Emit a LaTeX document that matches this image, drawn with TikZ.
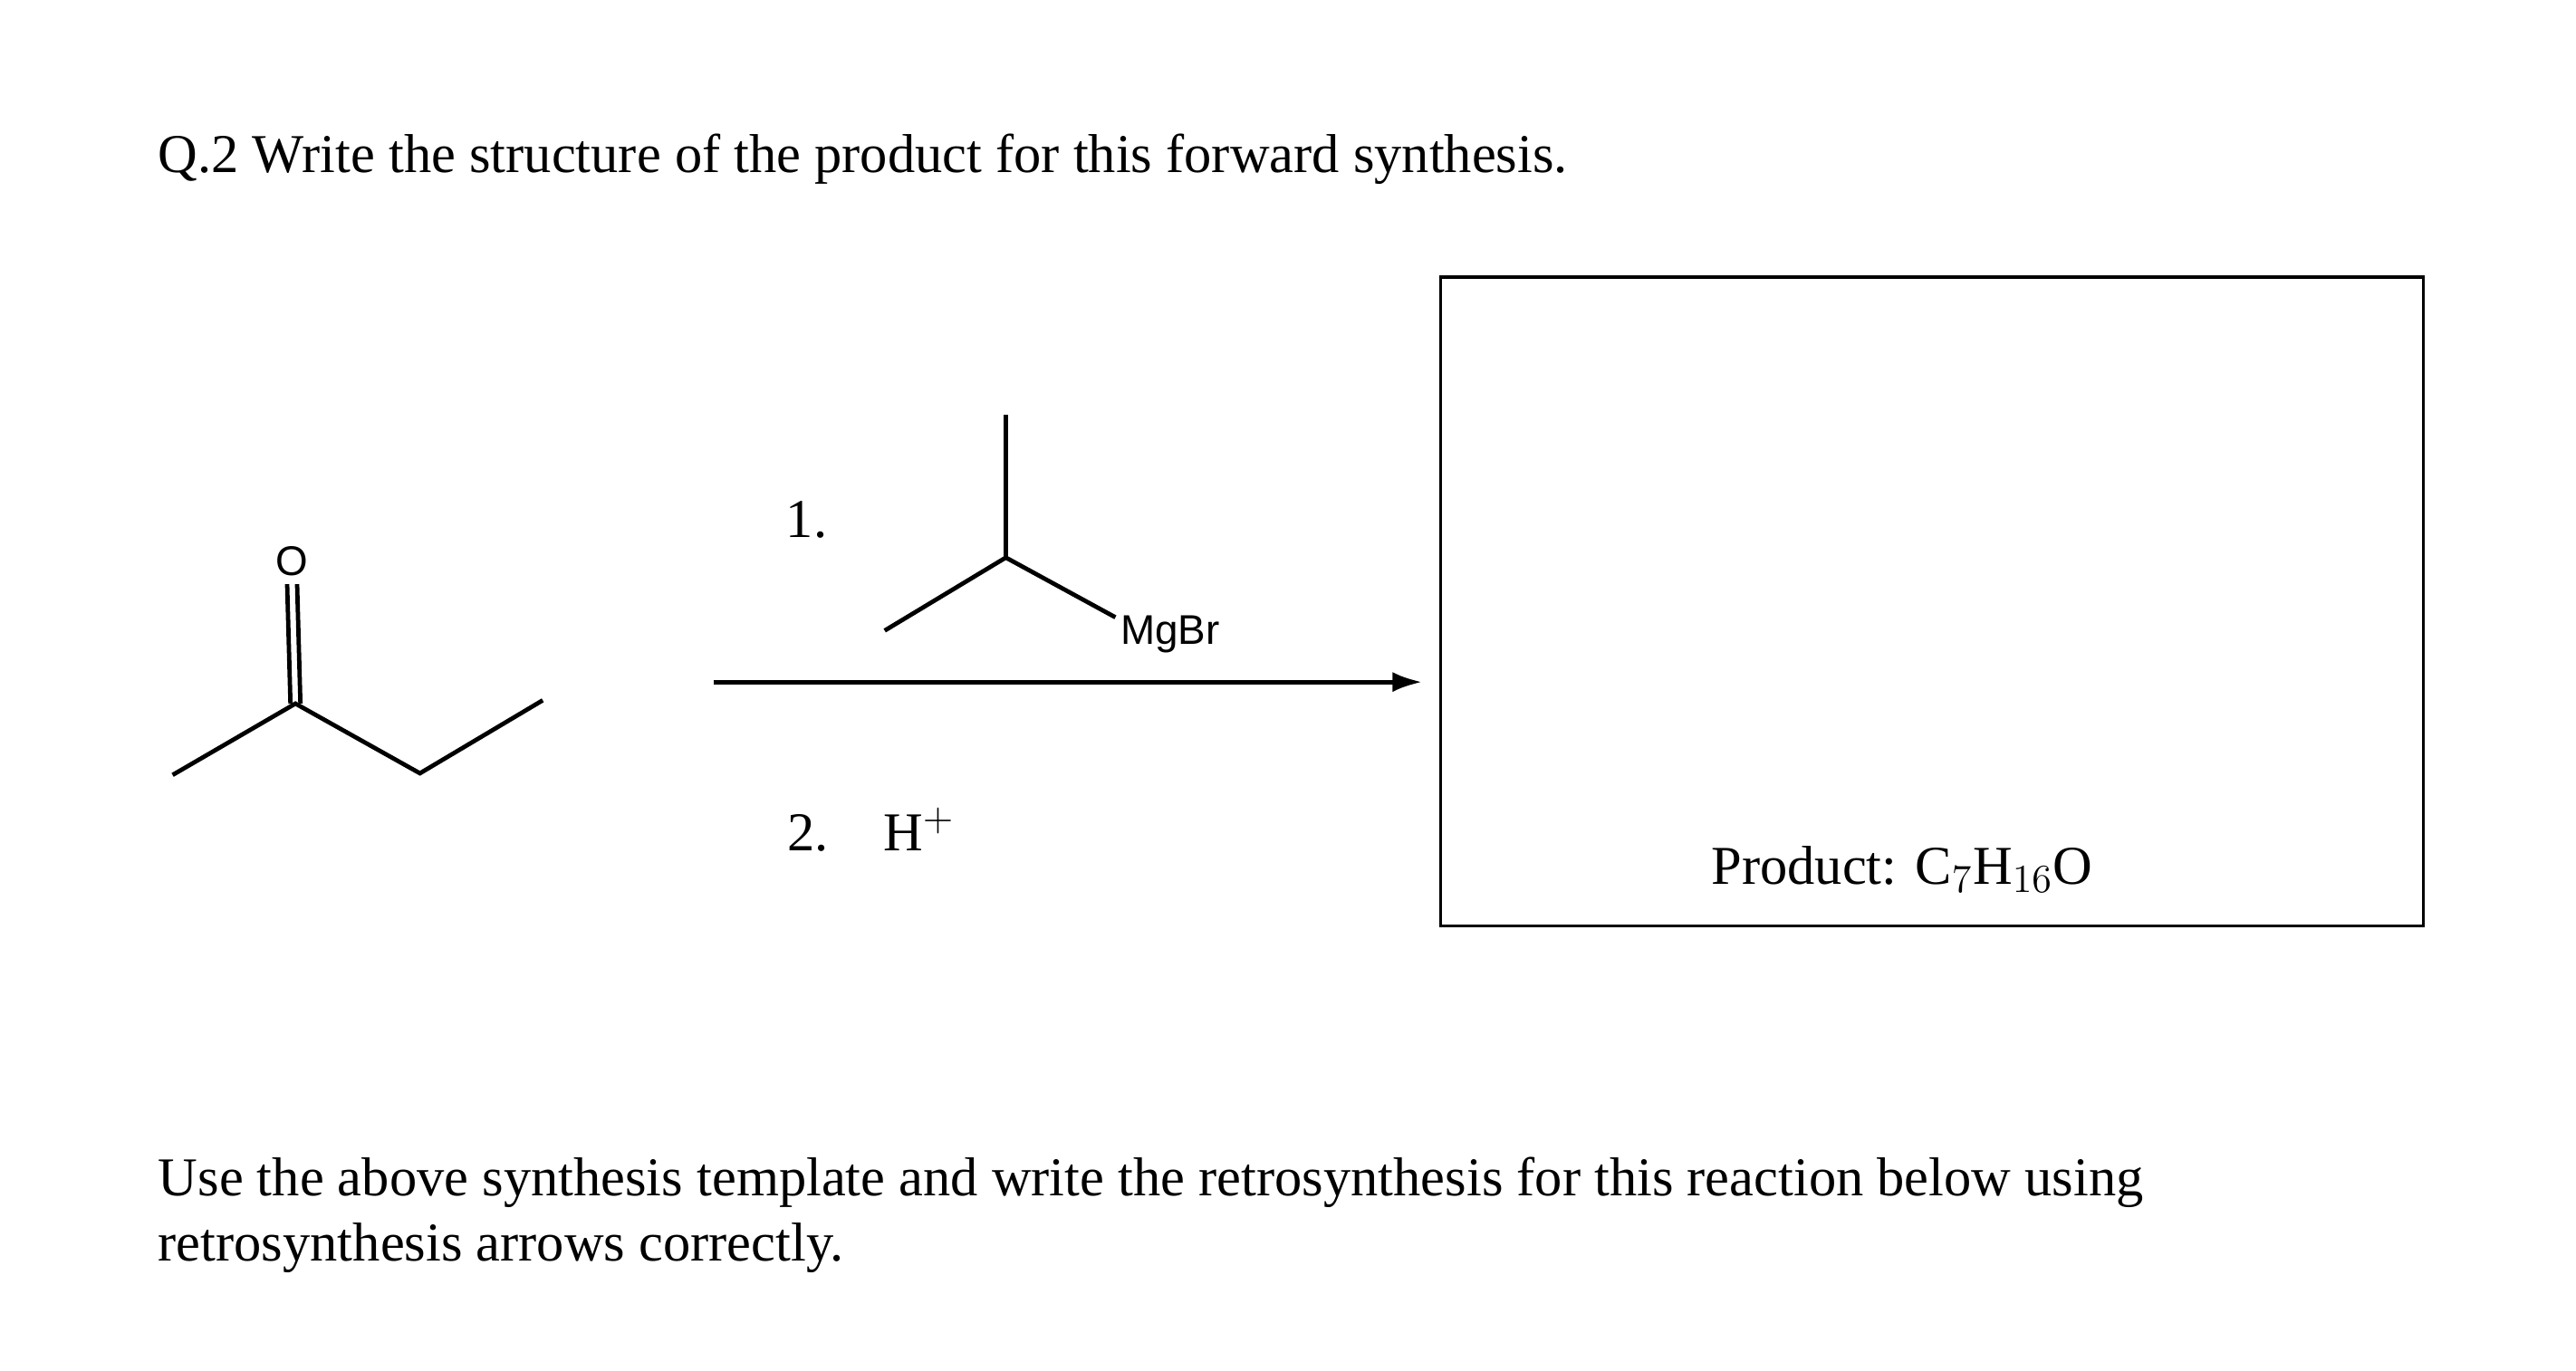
\documentclass[tikz,border=0pt]{standalone}
\usepackage{fontspec}
\usetikzlibrary{arrows.meta}
\setmainfont{Liberation Serif}
\setsansfont{Liberation Sans}
\begin{document}
\begin{tikzpicture}[x=0.5pt,y=-0.5pt,
  bond/.style={line width=1.3pt},
  txt/.style={inner sep=0pt,font=\fontsize{16.5}{19.5}\selectfont}]
\useasboundingbox (0,0) rectangle (1552,826);
\node[txt,anchor=west] (title) at (95,96) {Q.2 Write the structure of the product for this forward synthesis.};
% ketone
\coordinate (k1) at (104,467); \coordinate (k2) at (178,424);
\coordinate (k3) at (253,466); \coordinate (k4) at (327,422);
\node[inner sep=0pt,font=\sffamily\fontsize{12.5}{14}\selectfont] (O) at (176,338) {O};
\draw[bond] (k1)--(k2)--(k3)--(k4);
\draw[bond] ([xshift=-1.5pt]k2) -- ([xshift=-1.5pt]176,352);
\draw[bond] ([xshift=1.5pt]k2) -- ([xshift=1.5pt]176,352);
% grignard
\coordinate (g1) at (606,250); \coordinate (g2) at (606,336);
\coordinate (g3) at (533,380); \coordinate (g4) at (672,372);
\draw[bond] (g1)--(g2)--(g3); \draw[bond] (g2)--(g4);
\node[inner sep=0pt,font=\sffamily\fontsize{12.5}{14}\selectfont] (mg) at (705,382) {MgBr};
\node[txt] (one) at (486,313) {1.};
\node[txt,anchor=west] (two) at (474,500) {2.\quad H$^+$};
\coordinate (a1) at (430,411); \coordinate (a2) at (857,411);
\draw[line width=1.4pt,-{Latex[length=9pt,width=6pt]}] (a1)--(a2);
\node[draw,line width=1pt,minimum width=296pt,minimum height=195.5pt,inner sep=0pt,anchor=north west] (box) at (867,166) {};
\node[txt] (prod) at (1146,524) {Product: C$_7$H$_{16}$O};
\node[txt,anchor=north west,align=left] (q) at (95,697) {Use the above synthesis template and write the retrosynthesis for this reaction below using\\retrosynthesis arrows correctly.};
\end{tikzpicture}
\end{document}
